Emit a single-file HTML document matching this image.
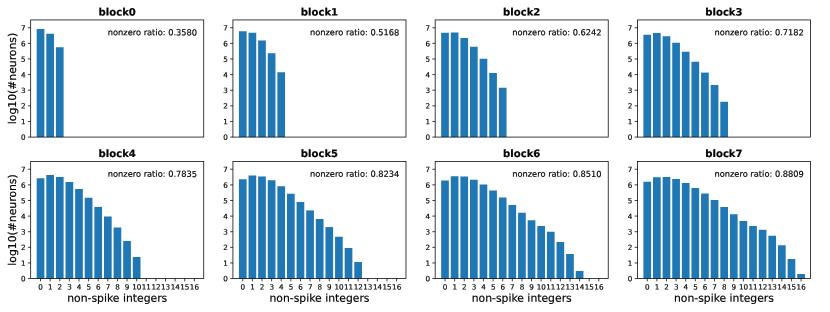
<!DOCTYPE html>
<html><head><meta charset="utf-8"><title>non-spike integers histogram</title>
<style>
html,body{margin:0;padding:0;background:#fff}
body{width:830px;height:312px;overflow:hidden}
svg{display:block}
text{font-family:"DejaVu Sans","Liberation Sans",sans-serif;fill:#000;stroke:#000;stroke-width:0.18px}
.t{font-size:7.2px}
.ti{font-size:10.09px;font-weight:bold}
.l{font-size:10.82px}
.a{font-size:8.29px}
.b{fill:#1f77b4}
.s{fill:none;stroke:#000;stroke-width:0.76}
</style></head><body>
<svg width="830" height="312" viewBox="0 0 830 312">
<rect width="830" height="312" fill="#fff"/>
<g>
<g>
<rect class="b" x="36.68" y="29" width="7.69" height="108.08"/>
<rect class="b" x="46.29" y="33.75" width="7.69" height="103.33"/>
<rect class="b" x="55.91" y="47.25" width="7.69" height="89.83"/>
<path class="s" d="M30.69 137.08h-2.8M30.69 121.46h-2.8M30.69 105.84h-2.8M30.69 90.22h-2.8M30.69 74.6h-2.8M30.69 58.98h-2.8M30.69 43.36h-2.8M30.69 27.74h-2.8"/>
<rect class="s" x="30.69" y="19.93" width="173.05" height="117.15"/>
<text class="t" text-anchor="end" transform="translate(25.59 139.86) rotate(0.05)">0</text>
<text class="t" text-anchor="end" transform="translate(25.59 124.24) rotate(0.05)">1</text>
<text class="t" text-anchor="end" transform="translate(25.59 108.62) rotate(0.05)">2</text>
<text class="t" text-anchor="end" transform="translate(25.59 93) rotate(0.05)">3</text>
<text class="t" text-anchor="end" transform="translate(25.59 77.38) rotate(0.05)">4</text>
<text class="t" text-anchor="end" transform="translate(25.59 61.76) rotate(0.05)">5</text>
<text class="t" text-anchor="end" transform="translate(25.59 46.14) rotate(0.05)">6</text>
<text class="t" text-anchor="end" transform="translate(25.59 30.52) rotate(0.05)">7</text>
<text class="l" text-anchor="middle" transform="translate(15.93 78.51) rotate(-89.95)">log10(#neurons)</text>
<text class="ti" text-anchor="middle" transform="translate(117.22 15.6) rotate(0.05)">block0</text>
<text class="a" text-anchor="end" transform="translate(197.14 35.38) rotate(0.05)">nonzero ratio: 0.3580</text>
</g>
<g>
<rect class="b" x="238.92" y="31.25" width="7.69" height="105.83"/>
<rect class="b" x="248.53" y="32.75" width="7.69" height="104.33"/>
<rect class="b" x="258.15" y="40.5" width="7.69" height="96.58"/>
<rect class="b" x="267.76" y="53.25" width="7.69" height="83.83"/>
<rect class="b" x="277.37" y="72.25" width="7.69" height="64.83"/>
<path class="s" d="M232.93 137.08h-2.8M232.93 121.46h-2.8M232.93 105.84h-2.8M232.93 90.22h-2.8M232.93 74.6h-2.8M232.93 58.98h-2.8M232.93 43.36h-2.8M232.93 27.74h-2.8"/>
<rect class="s" x="232.93" y="19.93" width="173.05" height="117.15"/>
<text class="t" text-anchor="end" transform="translate(227.83 139.86) rotate(0.05)">0</text>
<text class="t" text-anchor="end" transform="translate(227.83 124.24) rotate(0.05)">1</text>
<text class="t" text-anchor="end" transform="translate(227.83 108.62) rotate(0.05)">2</text>
<text class="t" text-anchor="end" transform="translate(227.83 93) rotate(0.05)">3</text>
<text class="t" text-anchor="end" transform="translate(227.83 77.38) rotate(0.05)">4</text>
<text class="t" text-anchor="end" transform="translate(227.83 61.76) rotate(0.05)">5</text>
<text class="t" text-anchor="end" transform="translate(227.83 46.14) rotate(0.05)">6</text>
<text class="t" text-anchor="end" transform="translate(227.83 30.52) rotate(0.05)">7</text>
<text class="ti" text-anchor="middle" transform="translate(319.46 15.6) rotate(0.05)">block1</text>
<text class="a" text-anchor="end" transform="translate(399.38 35.38) rotate(0.05)">nonzero ratio: 0.5168</text>
</g>
<g>
<rect class="b" x="441.16" y="32.75" width="7.69" height="104.33"/>
<rect class="b" x="450.77" y="32.5" width="7.69" height="104.58"/>
<rect class="b" x="460.39" y="38" width="7.69" height="99.08"/>
<rect class="b" x="470" y="46.75" width="7.69" height="90.33"/>
<rect class="b" x="479.61" y="58.75" width="7.69" height="78.33"/>
<rect class="b" x="489.23" y="73" width="7.69" height="64.08"/>
<rect class="b" x="498.84" y="87.75" width="7.69" height="49.33"/>
<path class="s" d="M435.17 137.08h-2.8M435.17 121.46h-2.8M435.17 105.84h-2.8M435.17 90.22h-2.8M435.17 74.6h-2.8M435.17 58.98h-2.8M435.17 43.36h-2.8M435.17 27.74h-2.8"/>
<rect class="s" x="435.17" y="19.93" width="173.05" height="117.15"/>
<text class="t" text-anchor="end" transform="translate(430.07 139.86) rotate(0.05)">0</text>
<text class="t" text-anchor="end" transform="translate(430.07 124.24) rotate(0.05)">1</text>
<text class="t" text-anchor="end" transform="translate(430.07 108.62) rotate(0.05)">2</text>
<text class="t" text-anchor="end" transform="translate(430.07 93) rotate(0.05)">3</text>
<text class="t" text-anchor="end" transform="translate(430.07 77.38) rotate(0.05)">4</text>
<text class="t" text-anchor="end" transform="translate(430.07 61.76) rotate(0.05)">5</text>
<text class="t" text-anchor="end" transform="translate(430.07 46.14) rotate(0.05)">6</text>
<text class="t" text-anchor="end" transform="translate(430.07 30.52) rotate(0.05)">7</text>
<text class="ti" text-anchor="middle" transform="translate(521.7 15.6) rotate(0.05)">block2</text>
<text class="a" text-anchor="end" transform="translate(601.62 35.38) rotate(0.05)">nonzero ratio: 0.6242</text>
</g>
<g>
<rect class="b" x="643.4" y="34.75" width="7.69" height="102.33"/>
<rect class="b" x="653.01" y="33" width="7.69" height="104.08"/>
<rect class="b" x="662.63" y="36.25" width="7.69" height="100.83"/>
<rect class="b" x="672.24" y="42.75" width="7.69" height="94.33"/>
<rect class="b" x="681.85" y="51.75" width="7.69" height="85.33"/>
<rect class="b" x="691.47" y="61.75" width="7.69" height="75.33"/>
<rect class="b" x="701.08" y="72.6" width="7.69" height="64.48"/>
<rect class="b" x="710.7" y="85" width="7.69" height="52.08"/>
<rect class="b" x="720.31" y="101.75" width="7.69" height="35.33"/>
<path class="s" d="M637.41 137.08h-2.8M637.41 121.46h-2.8M637.41 105.84h-2.8M637.41 90.22h-2.8M637.41 74.6h-2.8M637.41 58.98h-2.8M637.41 43.36h-2.8M637.41 27.74h-2.8"/>
<rect class="s" x="637.41" y="19.93" width="173.05" height="117.15"/>
<text class="t" text-anchor="end" transform="translate(632.31 139.86) rotate(0.05)">0</text>
<text class="t" text-anchor="end" transform="translate(632.31 124.24) rotate(0.05)">1</text>
<text class="t" text-anchor="end" transform="translate(632.31 108.62) rotate(0.05)">2</text>
<text class="t" text-anchor="end" transform="translate(632.31 93) rotate(0.05)">3</text>
<text class="t" text-anchor="end" transform="translate(632.31 77.38) rotate(0.05)">4</text>
<text class="t" text-anchor="end" transform="translate(632.31 61.76) rotate(0.05)">5</text>
<text class="t" text-anchor="end" transform="translate(632.31 46.14) rotate(0.05)">6</text>
<text class="t" text-anchor="end" transform="translate(632.31 30.52) rotate(0.05)">7</text>
<text class="ti" text-anchor="middle" transform="translate(723.93 15.6) rotate(0.05)">block3</text>
<text class="a" text-anchor="end" transform="translate(803.86 35.38) rotate(0.05)">nonzero ratio: 0.7182</text>
</g>
<g>
<rect class="b" x="36.68" y="178.25" width="7.69" height="100.33"/>
<rect class="b" x="46.29" y="175" width="7.69" height="103.58"/>
<rect class="b" x="55.91" y="177" width="7.69" height="101.58"/>
<rect class="b" x="65.52" y="182" width="7.69" height="96.58"/>
<rect class="b" x="75.13" y="189" width="7.69" height="89.58"/>
<rect class="b" x="84.75" y="197.75" width="7.69" height="80.83"/>
<rect class="b" x="94.36" y="206.9" width="7.69" height="71.68"/>
<rect class="b" x="103.98" y="216.5" width="7.69" height="62.08"/>
<rect class="b" x="113.59" y="227.5" width="7.69" height="51.08"/>
<rect class="b" x="123.2" y="241" width="7.69" height="37.58"/>
<rect class="b" x="132.82" y="257" width="7.69" height="21.58"/>
<path class="s" d="M30.69 278.58h-2.8M30.69 262.96h-2.8M30.69 247.34h-2.8M30.69 231.72h-2.8M30.69 216.1h-2.8M30.69 200.48h-2.8M30.69 184.86h-2.8M30.69 169.24h-2.8M40.52 278.58v2.8M50.14 278.58v2.8M59.75 278.58v2.8M69.37 278.58v2.8M78.98 278.58v2.8M88.59 278.58v2.8M98.21 278.58v2.8M107.82 278.58v2.8M117.44 278.58v2.8M127.05 278.58v2.8M136.66 278.58v2.8M146.28 278.58v2.8M155.89 278.58v2.8M165.5 278.58v2.8M175.12 278.58v2.8M184.73 278.58v2.8M194.35 278.58v2.8"/>
<rect class="s" x="30.69" y="161.43" width="173.05" height="117.15"/>
<text class="t" text-anchor="end" transform="translate(25.59 281.36) rotate(0.05)">0</text>
<text class="t" text-anchor="end" transform="translate(25.59 265.74) rotate(0.05)">1</text>
<text class="t" text-anchor="end" transform="translate(25.59 250.12) rotate(0.05)">2</text>
<text class="t" text-anchor="end" transform="translate(25.59 234.5) rotate(0.05)">3</text>
<text class="t" text-anchor="end" transform="translate(25.59 218.88) rotate(0.05)">4</text>
<text class="t" text-anchor="end" transform="translate(25.59 203.26) rotate(0.05)">5</text>
<text class="t" text-anchor="end" transform="translate(25.59 187.64) rotate(0.05)">6</text>
<text class="t" text-anchor="end" transform="translate(25.59 172.02) rotate(0.05)">7</text>
<text class="t" text-anchor="middle" transform="translate(40.62 289.48) rotate(0.05)">0</text>
<text class="t" text-anchor="middle" transform="translate(50.24 289.48) rotate(0.05)">1</text>
<text class="t" text-anchor="middle" transform="translate(59.85 289.48) rotate(0.05)">2</text>
<text class="t" text-anchor="middle" transform="translate(69.47 289.48) rotate(0.05)">3</text>
<text class="t" text-anchor="middle" transform="translate(79.08 289.48) rotate(0.05)">4</text>
<text class="t" text-anchor="middle" transform="translate(88.69 289.48) rotate(0.05)">5</text>
<text class="t" text-anchor="middle" transform="translate(98.31 289.48) rotate(0.05)">6</text>
<text class="t" text-anchor="middle" transform="translate(107.92 289.48) rotate(0.05)">7</text>
<text class="t" text-anchor="middle" transform="translate(117.53 289.48) rotate(0.05)">8</text>
<text class="t" text-anchor="middle" transform="translate(127.15 289.48) rotate(0.05)">9</text>
<text class="t" text-anchor="middle" transform="translate(136.76 289.48) rotate(0.05)">10</text>
<text class="t" text-anchor="middle" transform="translate(146.38 289.48) rotate(0.05)">11</text>
<text class="t" text-anchor="middle" transform="translate(155.99 289.48) rotate(0.05)">12</text>
<text class="t" text-anchor="middle" transform="translate(165.6 289.48) rotate(0.05)">13</text>
<text class="t" text-anchor="middle" transform="translate(175.22 289.48) rotate(0.05)">14</text>
<text class="t" text-anchor="middle" transform="translate(184.83 289.48) rotate(0.05)">15</text>
<text class="t" text-anchor="middle" transform="translate(194.45 289.48) rotate(0.05)">16</text>
<text class="l" text-anchor="middle" transform="translate(117.22 301.74) rotate(0.05)">non-spike integers</text>
<text class="l" text-anchor="middle" transform="translate(15.93 220) rotate(-89.95)">log10(#neurons)</text>
<text class="ti" text-anchor="middle" transform="translate(117.22 157.1) rotate(0.05)">block4</text>
<text class="a" text-anchor="end" transform="translate(197.14 176.88) rotate(0.05)">nonzero ratio: 0.7835</text>
</g>
<g>
<rect class="b" x="238.92" y="179.25" width="7.69" height="99.33"/>
<rect class="b" x="248.53" y="175.5" width="7.69" height="103.08"/>
<rect class="b" x="258.15" y="176.5" width="7.69" height="102.08"/>
<rect class="b" x="267.76" y="180.25" width="7.69" height="98.33"/>
<rect class="b" x="277.37" y="186.25" width="7.69" height="92.33"/>
<rect class="b" x="286.99" y="193.75" width="7.69" height="84.83"/>
<rect class="b" x="296.6" y="202" width="7.69" height="76.58"/>
<rect class="b" x="306.22" y="210.4" width="7.69" height="68.18"/>
<rect class="b" x="315.83" y="219" width="7.69" height="59.58"/>
<rect class="b" x="325.44" y="227.1" width="7.69" height="51.48"/>
<rect class="b" x="335.06" y="236.75" width="7.69" height="41.83"/>
<rect class="b" x="344.67" y="248" width="7.69" height="30.58"/>
<rect class="b" x="354.29" y="262" width="7.69" height="16.58"/>
<path class="s" d="M232.93 278.58h-2.8M232.93 262.96h-2.8M232.93 247.34h-2.8M232.93 231.72h-2.8M232.93 216.1h-2.8M232.93 200.48h-2.8M232.93 184.86h-2.8M232.93 169.24h-2.8M242.76 278.58v2.8M252.38 278.58v2.8M261.99 278.58v2.8M271.61 278.58v2.8M281.22 278.58v2.8M290.83 278.58v2.8M300.45 278.58v2.8M310.06 278.58v2.8M319.68 278.58v2.8M329.29 278.58v2.8M338.9 278.58v2.8M348.52 278.58v2.8M358.13 278.58v2.8M367.74 278.58v2.8M377.36 278.58v2.8M386.97 278.58v2.8M396.59 278.58v2.8"/>
<rect class="s" x="232.93" y="161.43" width="173.05" height="117.15"/>
<text class="t" text-anchor="end" transform="translate(227.83 281.36) rotate(0.05)">0</text>
<text class="t" text-anchor="end" transform="translate(227.83 265.74) rotate(0.05)">1</text>
<text class="t" text-anchor="end" transform="translate(227.83 250.12) rotate(0.05)">2</text>
<text class="t" text-anchor="end" transform="translate(227.83 234.5) rotate(0.05)">3</text>
<text class="t" text-anchor="end" transform="translate(227.83 218.88) rotate(0.05)">4</text>
<text class="t" text-anchor="end" transform="translate(227.83 203.26) rotate(0.05)">5</text>
<text class="t" text-anchor="end" transform="translate(227.83 187.64) rotate(0.05)">6</text>
<text class="t" text-anchor="end" transform="translate(227.83 172.02) rotate(0.05)">7</text>
<text class="t" text-anchor="middle" transform="translate(242.86 289.48) rotate(0.05)">0</text>
<text class="t" text-anchor="middle" transform="translate(252.48 289.48) rotate(0.05)">1</text>
<text class="t" text-anchor="middle" transform="translate(262.09 289.48) rotate(0.05)">2</text>
<text class="t" text-anchor="middle" transform="translate(271.71 289.48) rotate(0.05)">3</text>
<text class="t" text-anchor="middle" transform="translate(281.32 289.48) rotate(0.05)">4</text>
<text class="t" text-anchor="middle" transform="translate(290.93 289.48) rotate(0.05)">5</text>
<text class="t" text-anchor="middle" transform="translate(300.55 289.48) rotate(0.05)">6</text>
<text class="t" text-anchor="middle" transform="translate(310.16 289.48) rotate(0.05)">7</text>
<text class="t" text-anchor="middle" transform="translate(319.78 289.48) rotate(0.05)">8</text>
<text class="t" text-anchor="middle" transform="translate(329.39 289.48) rotate(0.05)">9</text>
<text class="t" text-anchor="middle" transform="translate(339 289.48) rotate(0.05)">10</text>
<text class="t" text-anchor="middle" transform="translate(348.62 289.48) rotate(0.05)">11</text>
<text class="t" text-anchor="middle" transform="translate(358.23 289.48) rotate(0.05)">12</text>
<text class="t" text-anchor="middle" transform="translate(367.84 289.48) rotate(0.05)">13</text>
<text class="t" text-anchor="middle" transform="translate(377.46 289.48) rotate(0.05)">14</text>
<text class="t" text-anchor="middle" transform="translate(387.07 289.48) rotate(0.05)">15</text>
<text class="t" text-anchor="middle" transform="translate(396.69 289.48) rotate(0.05)">16</text>
<text class="l" text-anchor="middle" transform="translate(319.46 301.74) rotate(0.05)">non-spike integers</text>
<text class="ti" text-anchor="middle" transform="translate(319.46 157.1) rotate(0.05)">block5</text>
<text class="a" text-anchor="end" transform="translate(399.38 176.88) rotate(0.05)">nonzero ratio: 0.8234</text>
</g>
<g>
<rect class="b" x="441.16" y="180.5" width="7.69" height="98.08"/>
<rect class="b" x="450.77" y="176.25" width="7.69" height="102.33"/>
<rect class="b" x="460.39" y="176.5" width="7.69" height="102.08"/>
<rect class="b" x="470" y="179.75" width="7.69" height="98.83"/>
<rect class="b" x="479.61" y="184.5" width="7.69" height="94.08"/>
<rect class="b" x="489.23" y="190.5" width="7.69" height="88.08"/>
<rect class="b" x="498.84" y="197.5" width="7.69" height="81.08"/>
<rect class="b" x="508.46" y="205" width="7.69" height="73.58"/>
<rect class="b" x="518.07" y="212.75" width="7.69" height="65.83"/>
<rect class="b" x="527.68" y="220.25" width="7.69" height="58.33"/>
<rect class="b" x="537.3" y="226" width="7.69" height="52.58"/>
<rect class="b" x="546.91" y="231.75" width="7.69" height="46.83"/>
<rect class="b" x="556.53" y="242" width="7.69" height="36.58"/>
<rect class="b" x="566.14" y="254" width="7.69" height="24.58"/>
<rect class="b" x="575.75" y="271" width="7.69" height="7.58"/>
<path class="s" d="M435.17 278.58h-2.8M435.17 262.96h-2.8M435.17 247.34h-2.8M435.17 231.72h-2.8M435.17 216.1h-2.8M435.17 200.48h-2.8M435.17 184.86h-2.8M435.17 169.24h-2.8M445 278.58v2.8M454.62 278.58v2.8M464.23 278.58v2.8M473.85 278.58v2.8M483.46 278.58v2.8M493.07 278.58v2.8M502.69 278.58v2.8M512.3 278.58v2.8M521.92 278.58v2.8M531.53 278.58v2.8M541.14 278.58v2.8M550.76 278.58v2.8M560.37 278.58v2.8M569.98 278.58v2.8M579.6 278.58v2.8M589.21 278.58v2.8M598.83 278.58v2.8"/>
<rect class="s" x="435.17" y="161.43" width="173.05" height="117.15"/>
<text class="t" text-anchor="end" transform="translate(430.07 281.36) rotate(0.05)">0</text>
<text class="t" text-anchor="end" transform="translate(430.07 265.74) rotate(0.05)">1</text>
<text class="t" text-anchor="end" transform="translate(430.07 250.12) rotate(0.05)">2</text>
<text class="t" text-anchor="end" transform="translate(430.07 234.5) rotate(0.05)">3</text>
<text class="t" text-anchor="end" transform="translate(430.07 218.88) rotate(0.05)">4</text>
<text class="t" text-anchor="end" transform="translate(430.07 203.26) rotate(0.05)">5</text>
<text class="t" text-anchor="end" transform="translate(430.07 187.64) rotate(0.05)">6</text>
<text class="t" text-anchor="end" transform="translate(430.07 172.02) rotate(0.05)">7</text>
<text class="t" text-anchor="middle" transform="translate(445.1 289.48) rotate(0.05)">0</text>
<text class="t" text-anchor="middle" transform="translate(454.72 289.48) rotate(0.05)">1</text>
<text class="t" text-anchor="middle" transform="translate(464.33 289.48) rotate(0.05)">2</text>
<text class="t" text-anchor="middle" transform="translate(473.95 289.48) rotate(0.05)">3</text>
<text class="t" text-anchor="middle" transform="translate(483.56 289.48) rotate(0.05)">4</text>
<text class="t" text-anchor="middle" transform="translate(493.17 289.48) rotate(0.05)">5</text>
<text class="t" text-anchor="middle" transform="translate(502.79 289.48) rotate(0.05)">6</text>
<text class="t" text-anchor="middle" transform="translate(512.4 289.48) rotate(0.05)">7</text>
<text class="t" text-anchor="middle" transform="translate(522.02 289.48) rotate(0.05)">8</text>
<text class="t" text-anchor="middle" transform="translate(531.63 289.48) rotate(0.05)">9</text>
<text class="t" text-anchor="middle" transform="translate(541.24 289.48) rotate(0.05)">10</text>
<text class="t" text-anchor="middle" transform="translate(550.86 289.48) rotate(0.05)">11</text>
<text class="t" text-anchor="middle" transform="translate(560.47 289.48) rotate(0.05)">12</text>
<text class="t" text-anchor="middle" transform="translate(570.08 289.48) rotate(0.05)">13</text>
<text class="t" text-anchor="middle" transform="translate(579.7 289.48) rotate(0.05)">14</text>
<text class="t" text-anchor="middle" transform="translate(589.31 289.48) rotate(0.05)">15</text>
<text class="t" text-anchor="middle" transform="translate(598.93 289.48) rotate(0.05)">16</text>
<text class="l" text-anchor="middle" transform="translate(521.7 301.74) rotate(0.05)">non-spike integers</text>
<text class="ti" text-anchor="middle" transform="translate(521.7 157.1) rotate(0.05)">block6</text>
<text class="a" text-anchor="end" transform="translate(601.62 176.88) rotate(0.05)">nonzero ratio: 0.8510</text>
</g>
<g>
<rect class="b" x="643.4" y="181.75" width="7.69" height="96.83"/>
<rect class="b" x="653.01" y="177.25" width="7.69" height="101.33"/>
<rect class="b" x="662.63" y="177" width="7.69" height="101.58"/>
<rect class="b" x="672.24" y="179" width="7.69" height="99.58"/>
<rect class="b" x="681.85" y="183" width="7.69" height="95.58"/>
<rect class="b" x="691.47" y="188" width="7.69" height="90.58"/>
<rect class="b" x="701.08" y="193.5" width="7.69" height="85.08"/>
<rect class="b" x="710.7" y="200" width="7.69" height="78.58"/>
<rect class="b" x="720.31" y="207" width="7.69" height="71.58"/>
<rect class="b" x="729.92" y="214.25" width="7.69" height="64.33"/>
<rect class="b" x="739.54" y="221" width="7.69" height="57.58"/>
<rect class="b" x="749.15" y="226" width="7.69" height="52.58"/>
<rect class="b" x="758.76" y="229.75" width="7.69" height="48.83"/>
<rect class="b" x="768.38" y="235.75" width="7.69" height="42.83"/>
<rect class="b" x="777.99" y="245.25" width="7.69" height="33.33"/>
<rect class="b" x="787.61" y="259" width="7.69" height="19.58"/>
<rect class="b" x="797.22" y="274" width="7.69" height="4.58"/>
<path class="s" d="M637.41 278.58h-2.8M637.41 262.96h-2.8M637.41 247.34h-2.8M637.41 231.72h-2.8M637.41 216.1h-2.8M637.41 200.48h-2.8M637.41 184.86h-2.8M637.41 169.24h-2.8M647.24 278.58v2.8M656.86 278.58v2.8M666.47 278.58v2.8M676.09 278.58v2.8M685.7 278.58v2.8M695.31 278.58v2.8M704.93 278.58v2.8M714.54 278.58v2.8M724.15 278.58v2.8M733.77 278.58v2.8M743.38 278.58v2.8M753 278.58v2.8M762.61 278.58v2.8M772.22 278.58v2.8M781.84 278.58v2.8M791.45 278.58v2.8M801.07 278.58v2.8"/>
<rect class="s" x="637.41" y="161.43" width="173.05" height="117.15"/>
<text class="t" text-anchor="end" transform="translate(632.31 281.36) rotate(0.05)">0</text>
<text class="t" text-anchor="end" transform="translate(632.31 265.74) rotate(0.05)">1</text>
<text class="t" text-anchor="end" transform="translate(632.31 250.12) rotate(0.05)">2</text>
<text class="t" text-anchor="end" transform="translate(632.31 234.5) rotate(0.05)">3</text>
<text class="t" text-anchor="end" transform="translate(632.31 218.88) rotate(0.05)">4</text>
<text class="t" text-anchor="end" transform="translate(632.31 203.26) rotate(0.05)">5</text>
<text class="t" text-anchor="end" transform="translate(632.31 187.64) rotate(0.05)">6</text>
<text class="t" text-anchor="end" transform="translate(632.31 172.02) rotate(0.05)">7</text>
<text class="t" text-anchor="middle" transform="translate(647.34 289.48) rotate(0.05)">0</text>
<text class="t" text-anchor="middle" transform="translate(656.96 289.48) rotate(0.05)">1</text>
<text class="t" text-anchor="middle" transform="translate(666.57 289.48) rotate(0.05)">2</text>
<text class="t" text-anchor="middle" transform="translate(676.19 289.48) rotate(0.05)">3</text>
<text class="t" text-anchor="middle" transform="translate(685.8 289.48) rotate(0.05)">4</text>
<text class="t" text-anchor="middle" transform="translate(695.41 289.48) rotate(0.05)">5</text>
<text class="t" text-anchor="middle" transform="translate(705.03 289.48) rotate(0.05)">6</text>
<text class="t" text-anchor="middle" transform="translate(714.64 289.48) rotate(0.05)">7</text>
<text class="t" text-anchor="middle" transform="translate(724.25 289.48) rotate(0.05)">8</text>
<text class="t" text-anchor="middle" transform="translate(733.87 289.48) rotate(0.05)">9</text>
<text class="t" text-anchor="middle" transform="translate(743.48 289.48) rotate(0.05)">10</text>
<text class="t" text-anchor="middle" transform="translate(753.1 289.48) rotate(0.05)">11</text>
<text class="t" text-anchor="middle" transform="translate(762.71 289.48) rotate(0.05)">12</text>
<text class="t" text-anchor="middle" transform="translate(772.32 289.48) rotate(0.05)">13</text>
<text class="t" text-anchor="middle" transform="translate(781.94 289.48) rotate(0.05)">14</text>
<text class="t" text-anchor="middle" transform="translate(791.55 289.48) rotate(0.05)">15</text>
<text class="t" text-anchor="middle" transform="translate(801.17 289.48) rotate(0.05)">16</text>
<text class="l" text-anchor="middle" transform="translate(723.93 301.74) rotate(0.05)">non-spike integers</text>
<text class="ti" text-anchor="middle" transform="translate(723.93 157.1) rotate(0.05)">block7</text>
<text class="a" text-anchor="end" transform="translate(803.86 176.88) rotate(0.05)">nonzero ratio: 0.8809</text>
</g>
</g>
</svg>
</body></html>
